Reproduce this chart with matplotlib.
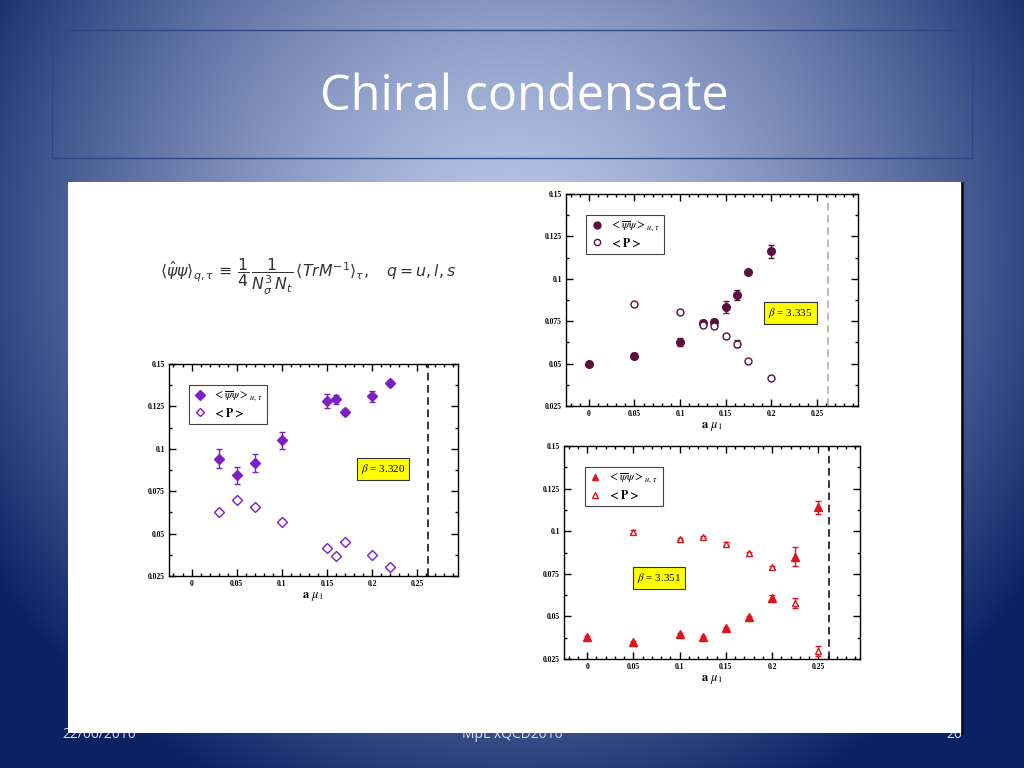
import numpy as np
import matplotlib
matplotlib.use('Agg')
import matplotlib.pyplot as plt
from matplotlib.patches import Rectangle
from matplotlib.lines import Line2D
from matplotlib.ticker import MultipleLocator

plt.rcParams['mathtext.fontset'] = 'stix'

# beta = 3.320
mu_a = [0.03, 0.05, 0.07, 0.1, 0.15, 0.16, 0.17, 0.2, 0.22]
cond_a = [0.0941, 0.0843, 0.0915, 0.1051, 0.1281, 0.1291, 0.1217, 0.1309, 0.1386]
cond_a_err = [0.0055, 0.005, 0.0052, 0.005, 0.0043, 0.0027, 0.002, 0.003, 0.0018]
pol_a = [0.063, 0.0699, 0.0654, 0.0569, 0.0413, 0.0368, 0.0451, 0.0372, 0.0303]
pol_a_err = [0.0012, 0.001, 0.001, 0.0015, 0.0012, 0.0012, 0.0012, 0.0012, 0.0012]

# beta = 3.335
mu_b = [0.0, 0.05, 0.1, 0.125, 0.1375, 0.15, 0.1625, 0.175, 0.2]
cond_b = [0.0496, 0.0547, 0.0628, 0.074, 0.0748, 0.0833, 0.0904, 0.1041, 0.1161]
cond_b_err = [0.0008, 0.0015, 0.0025, 0.0015, 0.0015, 0.0037, 0.003, 0.001, 0.0037]
mu_b_pol = [0.05, 0.1, 0.125, 0.1375, 0.15, 0.1625, 0.175, 0.2]
pol_b = [0.085, 0.0803, 0.073, 0.0722, 0.0663, 0.0618, 0.0518, 0.0413]
pol_b_err = [0.001, 0.001, 0.001, 0.0015, 0.001, 0.002, 0.001, 0.001]

# beta = 3.351
mu_c = [0.0, 0.05, 0.1, 0.125, 0.15, 0.175, 0.2, 0.225, 0.25]
cond_c = [0.0377, 0.0348, 0.0396, 0.0377, 0.0432, 0.0494, 0.0608, 0.085, 0.114]
cond_c_err = [0.0008, 0.0008, 0.0008, 0.0008, 0.0008, 0.001, 0.002, 0.0055, 0.004]
mu_c_pol = [0.05, 0.1, 0.125, 0.15, 0.175, 0.2, 0.225, 0.25]
pol_c = [0.0997, 0.0954, 0.0966, 0.0927, 0.087, 0.0788, 0.0577, 0.0297]
pol_c_err = [0.0008, 0.0008, 0.0008, 0.0008, 0.0008, 0.0008, 0.003, 0.003]

W, H = 1024, 768
fig = plt.figure(figsize=(10.24, 7.68), dpi=100)

# slide background
bg = fig.add_axes([0, 0, 1, 1], zorder=-10)
yy, xx = np.mgrid[0:H, 0:W]
d = np.sqrt(((xx - 512) / 620.0) ** 2 + ((yy - 250) / 600.0) ** 2)
d = np.clip(d, 0, 1) ** 1.4
light = np.array([186, 199, 231]) / 255.0
dark = np.array([10, 34, 100]) / 255.0
img = light[None, None, :] * (1 - d[..., None]) + dark[None, None, :] * d[..., None]
bg.imshow(img, extent=[0, W, H, 0], aspect='auto')
bg.set_xlim(0, W)
bg.set_ylim(H, 0)
bg.axis('off')
bg.add_patch(Rectangle((52, 30), 920, 128, fill=False, ec='#2c4785', lw=1.0))
bg.text(524, 97, 'Chiral condensate', color='white', fontsize=35,
        family='Open Sans', ha='center', va='center')
for tx, s, ha in [(62, '22/06/2010', 'left'), (512, 'MpL xQCD2010', 'center'), (962, '26', 'right')]:
    bg.text(tx, 735, s, color='#d8def0', fontsize=10, family='Open Sans', ha=ha, va='center')
# white panel on top of footer
bg.add_patch(Rectangle((68, 182), 894, 551, fc='white', ec='none', zorder=5))
bg.plot([962, 962], [183, 733], color='#111111', lw=2, zorder=6)

bg.text(160, 277,
        r'$\langle\hat{\psi}\psi\rangle_{q,\tau}\,\equiv\,\dfrac{1}{4}\,\dfrac{1}{N_\sigma^3\,N_t}\,'
        r'\langle TrM^{-1}\rangle_\tau,\quad q=u,l,s$',
        fontsize=11.3, color='#333333', ha='left', va='center', zorder=7,
        math_fontfamily='dejavusans')


def panel(rect, mu, cond, cerr, mu_p, pol, perr, color, marker, beta, bpos, dash_color):
    ax = fig.add_axes(rect)
    ax.errorbar(mu, cond, yerr=cerr, fmt=marker, color=color, ms=5.5, capsize=2.5,
                elinewidth=1, capthick=1, mfc=color, mec=color)
    ax.errorbar(mu_p, pol, yerr=perr, fmt=marker, color=color, ms=5, capsize=2.5,
                elinewidth=1, capthick=1, mfc='white', mec=color, mew=1)
    ax.axvline(0.262, color=dash_color, ls=(0, (5, 3)), lw=1.1)
    ax.set_xlim(-0.025, 0.295)
    ax.set_ylim(0.025, 0.15)
    ax.xaxis.set_major_locator(MultipleLocator(0.05))
    ax.xaxis.set_minor_locator(MultipleLocator(0.01))
    ax.yaxis.set_major_locator(MultipleLocator(0.025))
    ax.yaxis.set_minor_locator(MultipleLocator(0.0125))
    ax.tick_params(which='both', direction='in', top=True, right=True)
    ax.tick_params(which='major', length=5, width=1, labelsize=5.5, pad=3)
    ax.tick_params(which='minor', length=2.5, width=1)
    ax.set_xticks([0, 0.05, 0.1, 0.15, 0.2, 0.25])
    ax.set_xticklabels(['0', '0.05', '0.1', '0.15', '0.2', '0.25'])
    ax.set_yticks([0.025, 0.05, 0.075, 0.1, 0.125, 0.15])
    ax.set_yticklabels(['0.025', '0.05', '0.075', '0.1', '0.125', '0.15'])
    for lab in ax.get_xticklabels() + ax.get_yticklabels():
        lab.set_family('Liberation Serif')
        lab.set_weight('bold')
    for sp in ax.spines.values():
        sp.set_linewidth(1)
    ax.set_xlabel(r'$\mathbf{a}\ \mu_{\,1}$', fontsize=9, labelpad=1)
    handles = [
        Line2D([], [], marker=marker, ls='none', color=color, ms=5, mfc=color),
        Line2D([], [], marker=marker, ls='none', color=color, ms=4.5, mfc='white'),
    ]
    labels = [r'$<\overline{\psi}\psi>_{u,\tau}$', r'$\mathbf{<P>}$']
    leg = ax.legend(handles, labels, loc='upper left', bbox_to_anchor=(0.05, 0.93),
                    fancybox=False, edgecolor='#444444', framealpha=1, fontsize=8.5,
                    handlelength=1.0, handletextpad=0.6, borderpad=0.4, labelspacing=0.2)
    leg.get_frame().set_linewidth(0.8)
    ax.text(bpos[0], bpos[1], r'$\beta$ = ' + beta, fontsize=8, family='Liberation Serif',
            ha='center', va='center',
            bbox=dict(boxstyle='square,pad=0.35', fc='#ffff00', ec='#333333', lw=0.8))
    return ax


panel([0.165, 0.25, 0.2822, 0.276], mu_a, cond_a, cond_a_err, mu_a, pol_a, pol_a_err,
      '#7d1fc2', 'D', '3.320', (0.212, 0.088), 'black')
panel([0.5527, 0.4714, 0.2852, 0.276], mu_b, cond_b, cond_b_err, mu_b_pol, pol_b, pol_b_err,
      '#5c1040', 'o', '3.335', (0.221, 0.080), '#aaaaaa')
panel([0.5508, 0.1419, 0.289, 0.2773], mu_c, cond_c, cond_c_err, mu_c_pol, pol_c, pol_c_err,
      '#e0141e', '^', '3.351', (0.078, 0.0725), 'black')

fig.savefig('out.png', dpi=100)
